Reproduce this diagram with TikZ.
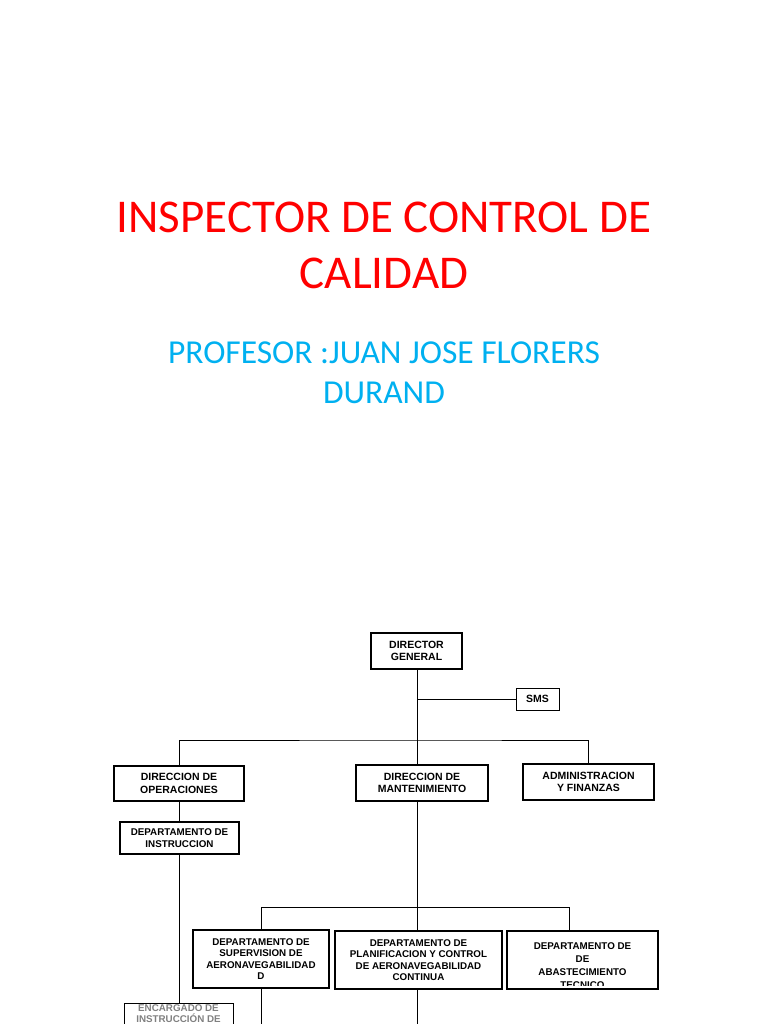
\documentclass[tikz,border=0pt]{standalone}
\usepackage{fontspec}
\setmainfont{Carlito}
\newfontfamily\chart{Liberation Sans}
\begin{document}
\begin{tikzpicture}[x=1pt,y=-1pt,
  box/.style={draw,line width=1.3pt,inner sep=0pt,font=\chart\bfseries\fontsize{10.5}{12.5}\selectfont,align=center},
  sbox/.style={box,font=\chart\bfseries\fontsize{9.8}{11.5}\selectfont},
  ln/.style={line width=0.8pt}]
\useasboundingbox (0,0) rectangle (768,1024);
\clip (0,0) rectangle (768,1024);
\node[red,font=\fontsize{47}{56}\selectfont,align=center] (title) at (384,245) {INSPECTOR DE CONTROL DE\\CALIDAD};
\node[color={rgb,255:red,0;green,176;blue,240},font=\fontsize{33.5}{40}\selectfont,align=center] (sub) at (384,373) {PROFESOR :JUAN JOSE FLORERS\\DURAND};
% boxes
\node[box,minimum width=91pt,minimum height=36pt] (dg) at (416.5,651) {DIRECTOR\\GENERAL};
\node[box,line width=0.8pt,minimum width=43pt,minimum height=22pt] (sms) at (537.5,699) {SMS};
\node[box,minimum width=130pt,minimum height=35pt] (dop) at (179,783.5) {DIRECCION DE\\OPERACIONES};
\node[box,minimum width=132pt,minimum height=36pt] (dma) at (422,783) {DIRECCION DE\\MANTENIMIENTO};
\node[box,minimum width=131pt,minimum height=36pt] (adm) at (588.5,782) {ADMINISTRACION\\Y FINANZAS};
\node[sbox,minimum width=119pt,minimum height=32pt] (din) at (179.5,838) {DEPARTAMENTO DE\\INSTRUCCION};
\node[sbox,minimum width=136pt,minimum height=58pt] (dsu) at (261,959) {DEPARTAMENTO DE\\SUPERVISION DE\\AERONAVEGABILIDAD\\D};
\node[sbox,minimum width=167pt,minimum height=58pt] (dpl) at (418.5,960) {DEPARTAMENTO DE\\PLANIFICACION Y CONTROL\\DE AERONAVEGABILIDAD\\CONTINUA};
\node[box,minimum width=151pt,minimum height=58pt] (dab) at (582.5,960) {};
\begin{scope}
\clip (508,932) rectangle (657,985);
\node[font=\chart\bfseries\fontsize{9.8}{13}\selectfont,align=center,anchor=north] (dabt) at (582.5,939) {DEPARTAMENTO DE\\DE\\ABASTECIMIENTO\\TECNICO};
\end{scope}
\node[sbox,line width=0.8pt,minimum width=109pt,minimum height=40pt,anchor=north,text=gray,text depth=20pt,font=\chart\bfseries\fontsize{9.8}{11.5}\selectfont] (enc) at (178.5,1003) {ENCARGADO DE\\INSTRUCCIÓN DE};
% connectors
\coordinate (j1) at (417,699);
\coordinate (j2) at (417,740);
\coordinate (j3) at (417,907);
\draw[ln] (dg.south -| j1) -- (j2);
\draw[ln] (j1) -- (sms.west);
\draw[ln] (dop.north) |- (j2) -| (adm.north);
\draw[ln] (j2) -- (j2 |- dma.north);
\draw[ln] (dop.south) -- (din.north -| dop.south);
\draw[ln] (din.south) -- (enc.north -| din.south);
\draw[ln] (dma.south -| j3) -- (j3);
\draw[ln] (dsu.north) |- (j3) -| (dab.north -| 569,0);
\draw[ln] (j3) -- (j3 |- dpl.north);
\draw[ln] (dsu.south) -- (261,1030);
\draw[ln] (dpl.south -| j3) -- (417,1030);
\end{tikzpicture}
\end{document}
